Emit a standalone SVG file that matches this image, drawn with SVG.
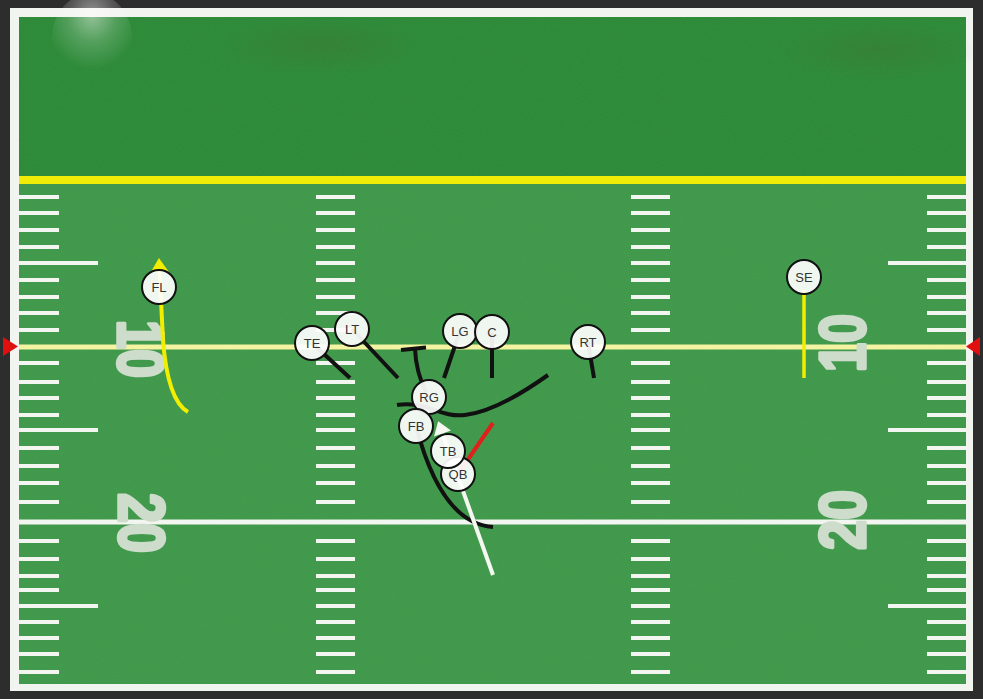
<svg xmlns="http://www.w3.org/2000/svg" width="983" height="699" viewBox="0 0 983 699">
  <style>
    .tick { stroke: #f3f5f0; stroke-width: 4; }
    .num { font-family: "Liberation Sans", Arial, sans-serif; font-weight: bold; font-size: 64px; fill: #cddccb; stroke: #cddccb; stroke-width: 3.5; stroke-linejoin: round; }
    .route { fill: none; stroke: #111; stroke-width: 4; stroke-linecap: butt; }
    .player circle { fill: #fff; fill-opacity: 0.92; stroke: #111; stroke-width: 2; }
    .player text { font-family: "Liberation Sans", Arial, sans-serif; font-size: 13px; fill: #333; text-anchor: middle; }
  </style>
  <defs>
    <radialGradient id="glare" cx="0.5" cy="0.25" r="0.6">
      <stop offset="0" stop-color="#ffffff" stop-opacity="0.5"/>
      <stop offset="0.5" stop-color="#ffffff" stop-opacity="0.18"/>
      <stop offset="1" stop-color="#ffffff" stop-opacity="0"/>
    </radialGradient>
    <radialGradient id="patch" cx="0.5" cy="0.5" r="0.5">
      <stop offset="0" stop-color="#4a5a20" stop-opacity="0.22"/>
      <stop offset="1" stop-color="#4a5a20" stop-opacity="0"/>
    </radialGradient>
    <filter id="grain" x="0" y="0" width="100%" height="100%">
      <feTurbulence type="fractalNoise" baseFrequency="0.9" numOctaves="2" seed="3" result="n"/>
      <feColorMatrix in="n" type="matrix" values="0 0 0 0 0.25  0 0 0 0 0.35  0 0 0 0 0.25  0 0 0 0.3 0"/>
    </filter>
    <marker id="arrY" markerUnits="userSpaceOnUse" markerWidth="16" markerHeight="18" refX="0" refY="9" orient="auto" viewBox="0 0 14 18">
      <path d="M0,0 L14,9 L0,18 z" fill="#f2ee00"/>
    </marker>
    <marker id="arrW" markerUnits="userSpaceOnUse" markerWidth="14" markerHeight="18" refX="0" refY="9" orient="auto" viewBox="0 0 13 18">
      <path d="M0,0 L13,9 L0,18 z" fill="#f4f8f0"/>
    </marker>
  </defs>

  <!-- frame -->
  <rect x="0" y="0" width="983" height="699" fill="#2d2d2d"/>
  <rect x="10" y="8" width="963" height="683" fill="#f2f4f0"/>
  <!-- field -->
  <rect x="19" y="17" width="947" height="667" fill="#3c9948"/>
  <!-- end zone -->
  <rect x="19" y="17" width="947" height="160" fill="#288a34"/>
  <ellipse cx="320" cy="45" rx="100" ry="30" fill="url(#patch)"/>
  <ellipse cx="880" cy="50" rx="100" ry="30" fill="url(#patch)"/>
  <ellipse cx="92" cy="38" rx="40" ry="45" fill="url(#glare)"/>
  <rect x="19" y="17" width="947" height="667" filter="url(#grain)" opacity="0.5"/>

  <!-- goal line -->
  <rect x="19" y="176" width="947" height="8" fill="#f0ec08"/>

  <!-- yard ticks -->
  <g id="ticks" class="tick">
    <path d="M19,197H59M19,213H59M19,230H59M19,247H59M19,263H98M19,280H59M19,297H59M19,313H59M19,330H59M19,363H59M19,382H59M19,398H59M19,415H59M19,430H98M19,448H59M19,466H59M19,483H59M19,502H59M19,541H59M19,559H59M19,576H59M19,590H59M19,606H98M19,622H59M19,638H59M19,654H59M19,672H59"/>
    <path d="M927,197H966M927,213H966M927,230H966M927,247H966M888,263H966M927,280H966M927,297H966M927,313H966M927,330H966M927,363H966M927,382H966M927,398H966M927,415H966M888,430H966M927,448H966M927,466H966M927,483H966M927,502H966M927,541H966M927,559H966M927,576H966M927,590H966M888,606H966M927,622H966M927,638H966M927,654H966M927,672H966"/>
    <path d="M316,197H355M316,213H355M316,230H355M316,247H355M316,263H355M316,280H355M316,297H355M316,313H355M316,330H355M316,363H355M316,382H355M316,398H355M316,415H355M316,430H355M316,448H355M316,466H355M316,483H355M316,502H355M316,541H355M316,559H355M316,576H355M316,590H355M316,606H355M316,622H355M316,638H355M316,654H355M316,672H355"/>
    <path d="M631,197H670M631,213H670M631,230H670M631,247H670M631,263H670M631,280H670M631,297H670M631,313H670M631,330H670M631,363H670M631,382H670M631,398H670M631,415H670M631,430H670M631,448H670M631,466H670M631,483H670M631,502H670M631,541H670M631,559H670M631,576H670M631,590H670M631,606H670M631,622H670M631,638H670M631,654H670M631,672H670"/>
  </g>

  <!-- yard lines -->
  <rect x="19" y="344.5" width="947" height="5" fill="#f3f3a2"/>
  <rect x="19" y="519.5" width="947" height="5" fill="#f3f5f0"/>

  <!-- numbers -->
  <text class="num" transform="translate(141,349) rotate(90)" x="0" y="23" text-anchor="middle" textLength="58" lengthAdjust="spacingAndGlyphs">10</text>
  <text class="num" transform="translate(142,523) rotate(90)" x="0" y="23" text-anchor="middle" textLength="60" lengthAdjust="spacingAndGlyphs">20</text>
  <text class="num" transform="translate(842,343) rotate(-90)" x="0" y="23" text-anchor="middle" textLength="58" lengthAdjust="spacingAndGlyphs">10</text>
  <text class="num" transform="translate(842,520) rotate(-90)" x="0" y="23" text-anchor="middle" textLength="60" lengthAdjust="spacingAndGlyphs">20</text>

  <!-- line of scrimmage markers -->
  <path d="M3,337 L18,346.5 L3,356 z" fill="#e01010"/>
  <path d="M980,337 L966,346.5 L980,356 z" fill="#e01010"/>

  <!-- connectors -->
  <g id="connectors">
    <path d="M188,412 C174,404 166,380 163,340 L159.6,272" fill="none" stroke="#f2ee00" stroke-width="4" marker-end="url(#arrY)"/>
    <line x1="804" y1="290" x2="804" y2="378" stroke="#f2ee00" stroke-width="3.5"/>
    <line x1="312" y1="343" x2="350" y2="378" class="route"/>
    <line x1="352" y1="329" x2="398" y2="378" class="route"/>
    <line x1="460" y1="331" x2="444" y2="378" class="route"/>
    <line x1="492" y1="332" x2="492" y2="378" class="route"/>
    <line x1="588" y1="342" x2="594" y2="378" class="route"/>
    <path d="M426,392 Q416,372 415,349" class="route"/>
    <line x1="401" y1="350" x2="426" y2="347.5" class="route"/>
    <path d="M397,405 C425,400 440,418 465,415 S520,395 548,375" class="route"/>
    <path d="M416,426 Q441.5,523.5 493,527" class="route"/>
    <line x1="458" y1="474" x2="493" y2="423" stroke="#e0201a" stroke-width="4"/>
    <line x1="493" y1="575" x2="442.5" y2="433.5" stroke="#f4f8f0" stroke-width="4" marker-end="url(#arrW)"/>
  </g>

  <!-- players -->
  <g id="TE" class="player"><circle cx="312" cy="343" r="17"/><text x="312" y="347.5">TE</text></g>
  <g id="LT" class="player"><circle cx="352" cy="329" r="17"/><text x="352" y="333.5">LT</text></g>
  <g id="LG" class="player"><circle cx="460" cy="331" r="17"/><text x="460" y="335.5">LG</text></g>
  <g id="C" class="player"><circle cx="492" cy="332" r="17"/><text x="492" y="336.5">C</text></g>
  <g id="RT" class="player"><circle cx="588" cy="342" r="17"/><text x="588" y="346.5">RT</text></g>
  <g id="RG" class="player"><circle cx="429" cy="397" r="17"/><text x="429" y="401.5">RG</text></g>
  <g id="FB" class="player"><circle cx="416" cy="426" r="17"/><text x="416" y="430.5">FB</text></g>
  <g id="QB" class="player"><circle cx="458" cy="474" r="17"/><text x="458" y="478.5">QB</text></g>
  <g id="TB" class="player"><circle cx="448" cy="451" r="17"/><text x="448" y="455.5">TB</text></g>
  <g id="FL" class="player"><circle cx="159" cy="287" r="17"/><text x="159" y="291.5">FL</text></g>
  <g id="SE" class="player"><circle cx="804" cy="277" r="17"/><text x="804" y="281.5">SE</text></g>
</svg>
